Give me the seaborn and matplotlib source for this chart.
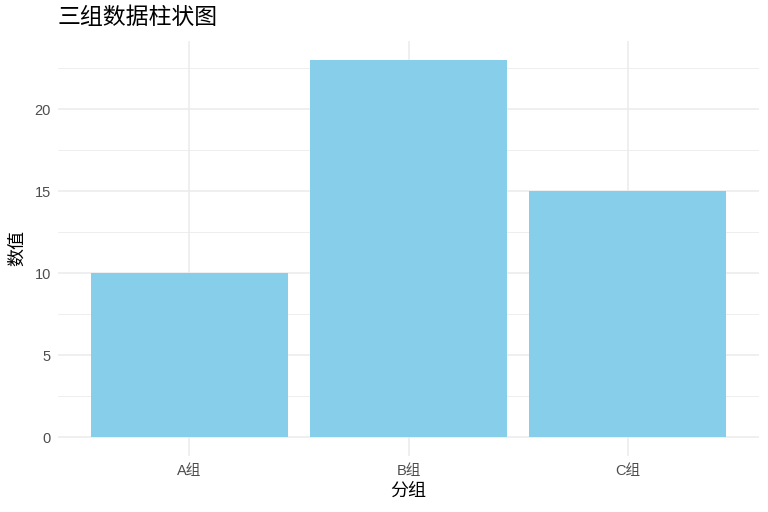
import matplotlib
matplotlib.use('Agg')
import matplotlib.pyplot as plt
import seaborn as sns
import pandas as pd

groups = ['A组', 'B组', 'C组']
values = [10, 23, 15]

def main():
    sns.set_theme(style='white')
    plt.rcParams['font.family'] = ['Liberation Sans', 'Noto Sans CJK SC', 'DejaVu Sans']

    df = pd.DataFrame({'分组': groups, '数值': values})

    fig = plt.figure(figsize=(7.68, 5.12), dpi=100)
    ax = fig.add_axes([58 / 768, (512 - 456) / 512, 701 / 768, 415 / 512])

    # ggplot-ish grid: major + minor lines, drawn under bars
    ax.set_axisbelow(True)
    for y in [0, 5, 10, 15, 20]:
        ax.axhline(y, color='#EBEBEB', lw=1.1, zorder=0)
    for y in [2.5, 7.5, 12.5, 17.5, 22.5]:
        ax.axhline(y, color='#EBEBEB', lw=0.6, zorder=0)
    for x in range(len(groups)):
        ax.axvline(x, color='#EBEBEB', lw=1.1, zorder=0)

    sns.barplot(data=df, x='分组', y='数值', color='#87CEEB', width=0.9,
                saturation=1, linewidth=0, ax=ax, zorder=2)

    ax.set_xlim(-0.6, 2.6)
    ax.set_ylim(-1.15, 24.15)
    ax.set_yticks([0, 5, 10, 15, 20])
    for s in ax.spines.values():
        s.set_visible(False)
    ax.tick_params(axis='both', length=0, labelsize=10.5, labelcolor='#4D4D4D')
    ax.tick_params(axis='x', pad=6)
    ax.tick_params(axis='y', pad=5)

    ax.set_xlabel('分组', fontsize=13, color='black', labelpad=3)
    ax.set_ylabel('数值', fontsize=13, color='black', labelpad=6)
    fig.text(58 / 768, 1 - 18 / 512, '三组数据柱状图', fontsize=16.5, color='black',
             ha='left', va='center')

    fig.savefig('out.png', dpi=100)

if __name__ == '__main__':
    main()
